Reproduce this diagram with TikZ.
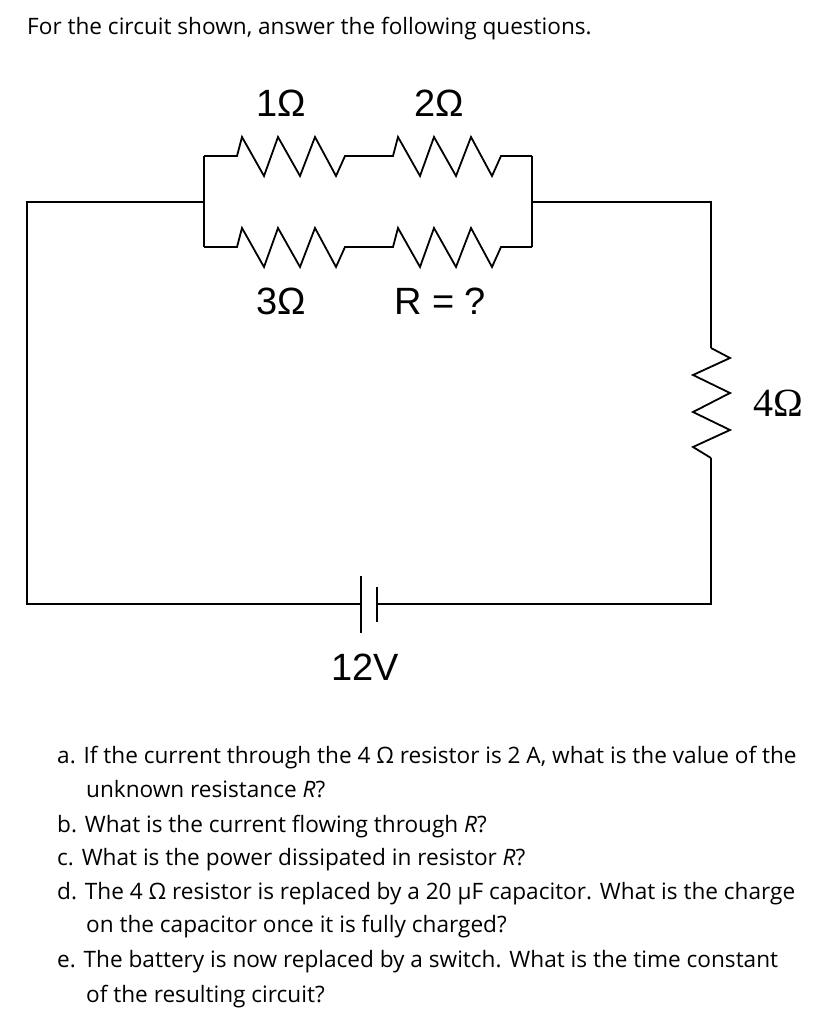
\documentclass[tikz,border=0pt]{standalone}
\usepackage{fontspec}
\setmainfont{Open Sans}
\newfontfamily\lblfont{Liberation Sans}
\newfontfamily\serlbl{Liberation Serif}
\begin{document}
\begin{tikzpicture}[x=1pt,y=-1pt,
  wire/.style={line width=1.8pt,line join=miter},
  lbl/.style={font=\lblfont\fontsize{38}{38}\selectfont,inner sep=0},
  txt/.style={font=\fontsize{22.6}{23}\selectfont,anchor=base west,inner sep=0}]
\useasboundingbox (0,0) rectangle (821,1024);
\fill[white] (0,0) rectangle (821,1024);
\node[txt] (title) at (27,35) {For the circuit shown, answer the following questions.};
% coordinates
\coordinate (L) at (204,202); \coordinate (R) at (532,202);
\coordinate (TL) at (204,156); \coordinate (BL) at (204,247);
\coordinate (TR) at (532,156); \coordinate (BR) at (532,247);
\coordinate (A) at (27,202); \coordinate (B) at (27,604);
\coordinate (C) at (711,604); \coordinate (D) at (711,202);
\coordinate (P1) at (361,604); \coordinate (P2) at (377,604);
\coordinate (R4t) at (711,348); \coordinate (R4b) at (711,458);
% parallel network
\foreach \yo in {0,91}{
\draw[wire] (TL) ++(0,\yo) -- (237,156+\yo) -- (242,137+\yo) -- (264,176+\yo) -- (278,137+\yo) -- (300,176+\yo) -- (315,137+\yo) -- (336,176+\yo) -- (345,156+\yo)
 -- (393,156+\yo) -- (398,137+\yo) -- (420,176+\yo) -- (434,137+\yo) -- (456,176+\yo) -- (471,137+\yo) -- (492,176+\yo) -- (501,156+\yo) -- (532,156+\yo);
}
\draw[wire] (TL) -- (BL); \draw[wire] (TR) -- (BR);
% main loop
\draw[wire] (L) -- (A) -- (B) -- (P1);
\draw[wire] (P2) -- (C) -- (R4b);
\draw[wire] (R) -- (D) -- (R4t);
\draw[wire] (R4t) -- (730,358) -- (693,375) -- (730,393) -- (693,412) -- (730,430) -- (693,447) -- (R4b);
\draw[wire] (361,576) -- (361,633);
\draw[wire] (377,587) -- (377,622);
% labels
\node[lbl] (l1) at (281,103) {1Ω};
\node[lbl] (l2) at (439,103) {2Ω};
\node[lbl] (l3) at (281,301) {3Ω};
\node[lbl] (l4) at (440,301) {R = ?};
\node[lbl,font=\serlbl\fontsize{40}{40}\selectfont] (l5) at (778,403) {4Ω};
\node[lbl] (l6) at (365,667) {12V};
% questions
\node[txt] (qa) at (57,763) {a. If the current through the 4 Ω resistor is 2 A, what is the value of the};
\node[txt] (qa2) at (86,797) {unknown resistance \textit{R}?};
\node[txt] (qb) at (57,832) {b. What is the current flowing through \textit{R}?};
\node[txt] (qc) at (57,865) {c. What is the power dissipated in resistor \textit{R}?};
\node[txt] (qd) at (57,899) {d. The 4 Ω resistor is replaced by a 20 µF capacitor. What is the charge};
\node[txt] (qd2) at (86,932) {on the capacitor once it is fully charged?};
\node[txt] (qe) at (57,967) {e. The battery is now replaced by a switch. What is the time constant};
\node[txt] (qe2) at (86,1002) {of the resulting circuit?};
\end{tikzpicture}
\end{document}
